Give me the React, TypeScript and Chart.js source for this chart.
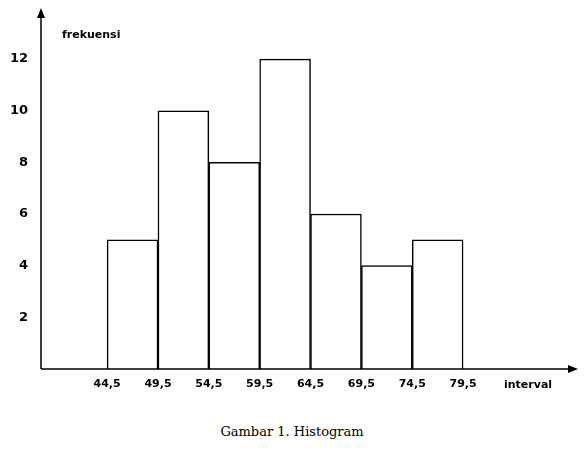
import { useEffect, useRef } from "react";
import { Chart, registerables } from "chart.js";

Chart.register(...registerables);

//  Data

const CLASS_EDGES = [44.5, 49.5, 54.5, 59.5, 64.5, 69.5, 74.5, 79.5];
const CLASS_MIDS = [47, 52, 57, 62, 67, 72, 77];
const FREQUENCIES = [5, 10, 8, 12, 6, 4, 5];
const Y_TICKS = [2, 4, 6, 8, 10, 12];

const Y_TITLE = "frekuensi";
const X_TITLE = "interval";
const CAPTION = "Gambar 1. Histogram";

const LABEL_FONT = "'DejaVu Sans', sans-serif";

//  Axis arrows + titles

const axisArrows = {
  id: "axisArrows",
  afterDraw(chart: Chart) {
    const { ctx, chartArea } = chart;
    const { left, right, top, bottom } = chartArea;
    ctx.save();
    ctx.strokeStyle = "#000";
    ctx.fillStyle = "#000";
    ctx.lineWidth = 1.5;

    // y axis
    ctx.beginPath();
    ctx.moveTo(left, bottom);
    ctx.lineTo(left, top + 6);
    ctx.stroke();
    ctx.beginPath();
    ctx.moveTo(left, top - 2);
    ctx.lineTo(left - 4, top + 8);
    ctx.lineTo(left + 4, top + 8);
    ctx.closePath();
    ctx.fill();

    // x axis
    ctx.beginPath();
    ctx.moveTo(left, bottom);
    ctx.lineTo(right - 6, bottom);
    ctx.stroke();
    ctx.beginPath();
    ctx.moveTo(right + 2, bottom);
    ctx.lineTo(right - 8, bottom - 4);
    ctx.lineTo(right - 8, bottom + 4);
    ctx.closePath();
    ctx.fill();

    // titles
    ctx.font = `bold 11px ${LABEL_FONT}`;
    ctx.textBaseline = "middle";
    ctx.textAlign = "left";
    ctx.fillText(Y_TITLE, left + 21, 35);
    ctx.fillText(X_TITLE, 504, bottom + 16);
    ctx.restore();
  },
};

//  Component

export default function App() {
  const canvasRef = useRef<HTMLCanvasElement>(null);

  useEffect(() => {
    if (!canvasRef.current) return;
    const chart = new Chart(canvasRef.current, {
      type: "bar",
      data: {
        datasets: [
          {
            data: CLASS_MIDS.map((x, i) => ({ x, y: FREQUENCIES[i] })),
            backgroundColor: "#fff",
            borderColor: "#000",
            borderWidth: 1.5,
            barPercentage: 1,
            categoryPercentage: 1,
          },
        ],
      },
      options: {
        responsive: true,
        maintainAspectRatio: false,
        animation: false,
        layout: { padding: { top: 10, right: 8, left: 0, bottom: 0 } },
        plugins: {
          legend: { display: false },
          tooltip: { enabled: false },
        },
        scales: {
          x: {
            type: "linear",
            min: 38,
            max: 90.6,
            offset: false,
            grid: { display: false, drawTicks: false },
            border: { display: false },
            afterBuildTicks: (scale) => {
              scale.ticks = CLASS_EDGES.map((value) => ({ value }));
            },
            afterFit: (scale) => {
              scale.height = 41;
              scale.paddingLeft = 0;
              scale.paddingRight = 0;
            },
            ticks: {
              padding: 9,
              color: "#000",
              font: { family: LABEL_FONT, size: 11, weight: "bold" },
              maxRotation: 0,
              autoSkip: false,
              callback: (v) => String(v).replace(".", ","),
            },
          },
          y: {
            min: 0,
            max: 13.9,
            grid: { display: false, drawTicks: false },
            border: { display: false },
            afterBuildTicks: (scale) => {
              scale.ticks = Y_TICKS.map((value) => ({ value }));
            },
            afterFit: (scale) => {
              scale.width = 41;
              scale.paddingTop = 0;
              scale.paddingBottom = 0;
            },
            ticks: {
              padding: 13,
              color: "#000",
              font: { family: LABEL_FONT, size: 13, weight: "bold" },
            },
          },
        },
      },
      plugins: [axisArrows],
    });
    return () => chart.destroy();
  }, []);

  return (
    <div
      style={{
        position: "fixed",
        left: 0,
        top: 0,
        width: 584,
        height: 450,
        background: "#fff",
      }}
    >
      <div style={{ position: "absolute", left: 0, top: 0, width: 584, height: 410 }}>
        <canvas ref={canvasRef} />
      </div>
      <div
        style={{
          position: "absolute",
          left: 0,
          top: 424,
          width: 584,
          textAlign: "center",
          fontFamily: "'DejaVu Serif', serif",
          fontSize: 13,
          color: "#000",
        }}
      >
        {CAPTION}
      </div>
    </div>
  );
}
